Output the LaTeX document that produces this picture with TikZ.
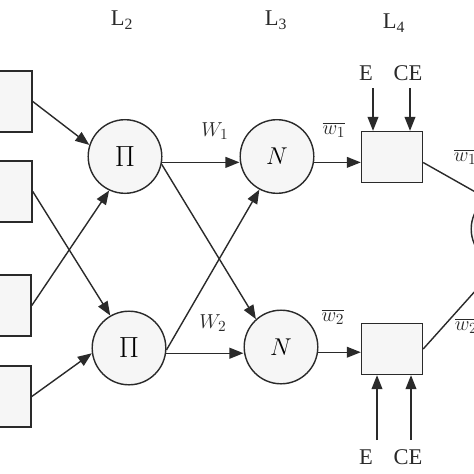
\documentclass[tikz,border=0pt]{standalone}
\usepackage{fontspec}
\setmainfont{Liberation Serif}
\usepackage{xcolor}
\usepackage{tikz}
\usetikzlibrary{positioning,arrows.meta}
\definecolor{ANFline}{HTML}{2A2A2A}
\definecolor{ANFfill}{HTML}{F6F6F6}
\tikzset{
  inbox/.style={draw=ANFline, fill=ANFfill, line width=1.1pt, minimum width=1.5cm, minimum height=1.52cm, inner sep=0pt},
  outbox/.style={draw=ANFline, fill=ANFfill, line width=1.1pt, minimum width=1.52cm, minimum height=1.27cm, inner sep=0pt},
  rulenode/.style={circle, draw=ANFline, fill=ANFfill, line width=1pt, minimum size=1.84cm, inner sep=0pt},
  flowarr/.style={-{Triangle[length=3.5mm,width=2.7mm]}, line width=1pt, draw=ANFline},
  flowline/.style={line width=1pt, draw=ANFline},
  layerlab/.style={font=\fontsize{16}{18}\selectfont, text=ANFline},
  sigtext/.style={font=\fontsize{16}{18}\selectfont, text=ANFline},
  wlab/.style={font=\fontsize{15}{17}\selectfont, text=ANFline}
}

\begin{document}
\begin{tikzpicture}[x=0.025cm, y=-0.025cm]
\useasboundingbox (0,0) rectangle (474,474);
% layer titles
\node[layerlab] (l2) at (122,20) {L\textsubscript{2}};
\node[layerlab] (l3) at (276,20) {L\textsubscript{3}};
\node[layerlab] (l4) at (394,23) {L\textsubscript{4}};
% input boxes (cut at the left edge)
\node[inbox] (a1) at (2,101.5) {};
\node[inbox] (a2) at (2,191.5) {};
\node[inbox] (a3) at (1,305.5) {};
\node[inbox] (a4) at (1,396.5) {};
% product and normalisation nodes
\node[rulenode, font=\fontsize{20}{22}\selectfont] (p1) at (125,156.5) {$\Pi$};
\node[rulenode, font=\fontsize{20}{22}\selectfont] (p2) at (129,348) {$\Pi$};
\node[rulenode, font=\fontsize{16}{18}\selectfont] (n1) at (277,156.5) {$N$};
\node[rulenode, font=\fontsize{16}{18}\selectfont] (n2) at (281,347) {$N$};
% consequent boxes
\node[outbox] (o1) at (392,157) {};
\node[outbox] (o2) at (392,349) {};
% output node (cut at the right edge)
\node[rulenode] (y) at (508,229) {};
% weight labels
\node[wlab] (w1) at (215,131) {$W_1$};
\node[wlab] (w2) at (213,323) {$W_2$};
\node[wlab] (nw1) at (334,130) {$\overline{w_1}$};
\node[wlab] (nw2) at (333,317) {$\overline{w_2}$};
\node[wlab, anchor=west] (rw1) at (449,157) {$\overline{w_1}$};
\node[wlab, anchor=west] (rw2) at (450,326) {$\overline{w_2}$};
% E and CE inputs
\node[sigtext] (e1) at (366,73) {E};
\node[sigtext] (c1) at (408,73) {CE};
\node[sigtext] (e2) at (366,457) {E};
\node[sigtext] (c2) at (408,457) {CE};
\coordinate (e1s) at (373,88);
\coordinate (c1s) at (410,88);
\coordinate (e2s) at (377,440);
\coordinate (c2s) at (411,440);
\draw[flowarr] (e1s) -- (e1s |- o1.north);
\draw[flowarr] (c1s) -- (c1s |- o1.north);
\draw[flowarr] (e2s) -- (e2s |- o2.south);
\draw[flowarr] (c2s) -- (c2s |- o2.south);
% connectors
\draw[flowarr] (a1.east) -- (p1.162);
\draw[flowarr] (a2.east) -- (p2.120);
\draw[flowarr] (a3.east) -- (p1.245);
\draw[flowarr] (a4.east) -- (p2.188);
\draw[flowarr] (p1.-9) -- (p1.-9 -| n1.west);
\draw[flowarr] (p1.-12) -- (n2.132);
\draw[flowarr] (p2.-3) -- (n1.242);
\draw[flowarr] (p2.-8) -- (p2.-8 -| n2.west);
\draw[flowarr] (n1.-9) -- (n1.-9 -| o1.west);
\draw[flowarr] (n2.-8) -- (n2.-8 -| o2.west);
\draw[flowline] (o1.-10) -- (y.125);
\draw[flowline] (o2.east) -- (y.255);
\end{tikzpicture}
\end{document}
